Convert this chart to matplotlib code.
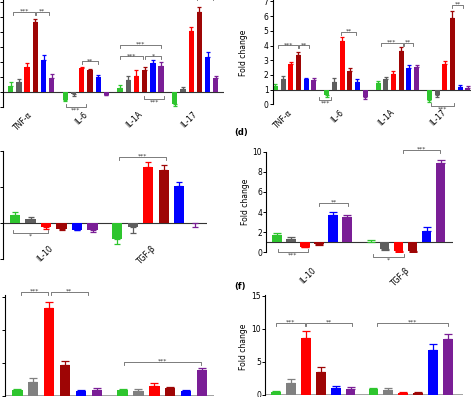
import numpy as np
import matplotlib
matplotlib.use('Agg')
import matplotlib.pyplot as plt

W, H = 474, 397

# 每組 6 個處理的顏色
colors_top = ['#2ec52e', '#5e5e5e', '#ff0000', '#9e0505', '#0000ff', '#7a1e96']
colors_bot = ['#2ec52e', '#808080', '#ff0000', '#9e0505', '#0000ff', '#7a1e96']

# (a) 左上
a_groups = ['TNF-α', 'IL-6', 'IL-1A', 'IL-17']
a_vals = [[0.44, 0.66, 1.66, 4.66, 2.14, 0.93],
          [-0.49, -0.08, 1.59, 1.48, 1.00, -0.15],
          [0.31, 0.84, 1.10, 1.48, 1.92, 1.74],
          [-0.77, 0.20, 4.10, 5.32, 2.36, 0.93]]
a_err = [[0.22, 0.22, 0.29, 0.22, 0.35, 0.27],
         [0.11, 0.15, 0.10, 0.10, 0.15, 0.05],
         [0.15, 0.22, 0.40, 0.18, 0.22, 0.29],
         [0.12, 0.15, 0.22, 0.33, 0.35, 0.15]]

# (b) 右上 (fold change)
b_groups = ['TNF-α', 'IL-6', 'IL-1A', 'IL-17']
b_vals = [[1.25, 1.70, 2.73, 3.34, 1.70, 1.68],
          [0.64, 1.52, 4.32, 2.25, 1.52, 0.48],
          [1.43, 1.70, 2.07, 3.64, 2.50, 2.57],
          [0.30, 0.64, 2.75, 5.86, 1.18, 1.09]]
b_err = [[0.14, 0.23, 0.16, 0.25, 0.07, 0.09],
         [0.16, 0.25, 0.27, 0.25, 0.23, 0.14],
         [0.16, 0.18, 0.23, 0.23, 0.16, 0.11],
         [0.16, 0.11, 0.20, 0.50, 0.14, 0.16]]

# (c) 中左
c_groups = ['IL-10', 'TGF-β']
c_vals = [[0.21, 0.09, -0.13, -0.18, -0.19, -0.20],
          [-0.46, -0.13, 1.56, 1.46, 1.02, -0.02]]
c_err = [[0.09, 0.06, 0.05, 0.03, 0.02, 0.05],
         [0.13, 0.15, 0.13, 0.14, 0.12, 0.10]]

# (d) 中右
d_groups = ['IL-10', 'TGF-β']
d_vals = [[1.72, 1.32, 0.56, 0.78, 3.70, 3.48],
          [1.02, 0.33, 0.13, 0.10, 2.15, 8.84]]
d_err = [[0.23, 0.17, 0.07, 0.10, 0.26, 0.20],
         [0.25, 0.10, 0.07, 0.05, 0.35, 0.35]]

# (e) 下左
e_vals = [[0.90, 2.15, 13.3, 4.75, 0.80, 0.90],
          [0.90, 0.80, 1.50, 1.15, 0.70, 4.00]]
e_err = [[0.15, 0.60, 0.95, 0.50, 0.15, 0.30],
         [0.15, 0.20, 0.40, 0.25, 0.15, 0.20]]

# (f) 下右
f_vals = [[0.50, 1.77, 8.70, 3.43, 1.00, 0.90],
          [0.90, 0.75, 0.30, 0.30, 6.80, 8.55]]
f_err = [[0.15, 0.60, 1.00, 0.80, 0.30, 0.30],
         [0.15, 0.30, 0.10, 0.10, 1.00, 0.70]]

# 顯著性標記 (x0, x1, y, 文字, 位置)
a_br = [(0.3, 2.95, 5.32, '***', 'top'), (3.05, 4.63, 5.32, '**', 'top'),
        (8.7, 10.6, 2.06, '**', 'top'), (6.7, 9.18, -0.97, '***', 'bot'),
        (13.33, 18.37, 3.15, '***', 'top'), (13.33, 16.17, 2.39, '***', 'top'),
        (16.38, 18.37, 2.39, '*', 'top'), (16.26, 18.73, -0.44, '***', 'bot'),
        (22.7, 24.7, 6.36, '', 'top')]
b_br = [(0.35, 2.95, 4.01, '***', 'top'), (3.04, 4.34, 4.01, '**', 'top'),
        (8.57, 10.44, 4.92, '**', 'top'), (5.71, 7.27, 0.29, '***', 'bot'),
        (13.73, 16.55, 4.19, '***', 'top'), (16.68, 17.88, 4.19, '**', 'top'),
        (22.95, 24.42, 6.76, '**', 'top'), (20.26, 23.17, -0.12, '***', 'bot')]
c_br = [(-0.15, 2.15, -0.29, '*', 'bot'), (6.73, 9.72, 1.83, '***', 'top')]
d_br = [(0.05, 2.19, 0.0, '***', 'bot'), (3.02, 5.07, 4.87, '**', 'top'),
        (6.86, 9.05, -0.44, '*', 'bot'), (8.98, 11.66, 10.17, '***', 'top')]
e_br = [(0.21, 1.95, 15.66, '***', 'top'), (2.1, 4.43, 15.66, '**', 'top'),
        (6.71, 11.57, 5.09, '***', 'top')]
f_br = [(0.0, 1.96, 10.86, '***', 'top'), (2.03, 5.11, 10.86, '**', 'top'),
        (6.76, 11.53, 10.86, '***', 'top')]

fig = plt.figure(figsize=(W / 100, H / 100), dpi=100)


def px_axes(x0, x1, ytop, ybot):
    return fig.add_axes([x0 / W, 1 - ybot / H, (x1 - x0) / W, (ybot - ytop) / H])


def draw_panel(ax, vals, errs, gap, base, colors, capsize, width=0.65):
    for g, (gv, ge) in enumerate(zip(vals, errs)):
        for i, (v, e) in enumerate(zip(gv, ge)):
            x = g * gap + i
            ax.bar(x, v - base, bottom=base, width=width, color=colors[i], zorder=2)
            lo, hi = (0, e) if v >= base else (e, 0)
            ax.errorbar(x, v, yerr=[[lo], [hi]], fmt='none', ecolor=colors[i],
                        elinewidth=0.9, capsize=capsize, capthick=0.9, zorder=2)
    for s in ['top', 'right', 'bottom']:
        ax.spines[s].set_visible(False)
    ax.spines['left'].set_linewidth(0.8)
    ax.set_xticks([])
    ax.tick_params(axis='y', length=2, width=0.7, pad=1, labelsize=5.5)


def brackets(ax, brs, h):
    for x0, x1, y, lab, side in brs:
        d = -h if side == 'top' else h
        ax.plot([x0, x0, x1, x1], [y + d, y, y, y + d], color='#666666', lw=0.6,
                clip_on=False, zorder=3)
        if not lab:
            continue
        if side == 'top':
            ax.annotate(lab, ((x0 + x1) / 2, y), xytext=(0, -1.2), textcoords='offset points',
                        ha='center', va='bottom', fontsize=4.5, color='#333333',
                        annotation_clip=False)
        else:
            ax.annotate(lab, ((x0 + x1) / 2, y), xytext=(0, -0.5), textcoords='offset points',
                        ha='center', va='top', fontsize=4.5, color='#333333',
                        annotation_clip=False)


def group_labels(ax, groups, gap, y, dx):
    for g, lab in enumerate(groups):
        ax.text(g * gap + 2.5 + dx, y, lab, rotation=45, ha='right', va='top',
                fontsize=5.5, clip_on=False)


# (a) 左側刻度文字在裁切範圍外
ax = px_axes(3, 223.9, -8.4, 107.4)
draw_panel(ax, a_vals, a_err, 6.67, 0, colors_top, 1.6)
ax.axhline(0, color='#333333', lw=0.8, zorder=1)
ax.set_xlim(-0.94, 26.0)
ax.set_ylim(-1, 6.7)
ax.set_yticks(range(-1, 7))
ax.tick_params(axis='y', labelleft=False)
brackets(ax, a_br, 0.2)
group_labels(ax, a_groups, 6.67, -1.15, 0.4)

# (b)
ax = px_axes(272.7, 471.1, 0, 104.3)
draw_panel(ax, b_vals, b_err, 6.67, 1, colors_top, 1.6)
ax.axhline(1, color='#333333', lw=0.8, zorder=1)
ax.set_xlim(-0.34, 25.43)
ax.set_ylim(0, 7.1)
ax.set_yticks(range(0, 8))
brackets(ax, b_br, 0.2)
group_labels(ax, b_groups, 6.67, -0.25, -0.1)
fig.text(243.5 / W, 1 - 53 / H, 'Fold change', rotation=90, ha='center', va='center', fontsize=5.5)

# (c)
ax = px_axes(3.4, 207.2, 150.7, 258.7)
draw_panel(ax, c_vals, c_err, 6.6, 0, colors_top, 2.5)
ax.axhline(0, color='#333333', lw=0.8, zorder=1)
ax.set_xlim(-0.75, 12.4)
ax.set_ylim(-1, 2)
ax.set_yticks(range(-1, 3))
ax.tick_params(axis='y', labelleft=False)
brackets(ax, c_br, 0.08)
group_labels(ax, c_groups, 6.6, -0.58, 0.1)

# (d)
ax = px_axes(266.4, 453.4, 151.7, 252.3)
draw_panel(ax, d_vals, d_err, 6.7, 1, colors_top, 2.8)
ax.axhline(1, color='#333333', lw=0.8, zorder=1)
ax.set_xlim(-0.76, 12.6)
ax.set_ylim(0, 10)
ax.set_yticks(range(0, 11, 2))
brackets(ax, d_br, 0.3)
group_labels(ax, d_groups, 6.7, -1.36, 0.4)
fig.text(246 / W, 1 - 201.7 / H, 'Fold change', rotation=90, ha='center', va='center', fontsize=5.5)
fig.text(241 / W, 1 - 133 / H, '(d)', ha='center', va='center', fontsize=6, fontweight='bold')

# (e)
ax = px_axes(5.1, 213.8, 295.4, 396)
draw_panel(ax, e_vals, e_err, 6.62, 0, colors_bot, 2.8)
ax.axhline(0, color='#999999', lw=2, zorder=1)
ax.set_xlim(-0.77, 12.36)
ax.set_ylim(0, 15.2)
ax.set_yticks([0, 5, 10, 15])
ax.tick_params(axis='y', labelleft=False)
brackets(ax, e_br, 0.45)

# (f)
ax = px_axes(265.3, 462.8, 295, 395)
draw_panel(ax, f_vals, f_err, 6.53, 0, colors_bot, 2.8)
ax.axhline(0, color='#999999', lw=2, zorder=1)
ax.set_xlim(-0.74, 12.54)
ax.set_ylim(0, 15.15)
ax.set_yticks([0, 5, 10, 15])
brackets(ax, f_br, 0.45)
fig.text(243.5 / W, 1 - 346.7 / H, 'Fold change', rotation=90, ha='center', va='center', fontsize=5.5)
fig.text(240 / W, 1 - 286 / H, '(f)', ha='center', va='center', fontsize=6, fontweight='bold')

fig.savefig('out.png', dpi=100)
